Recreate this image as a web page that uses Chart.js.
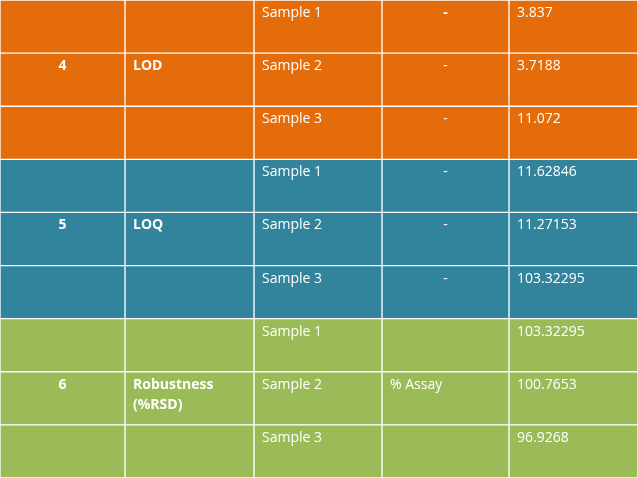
<!DOCTYPE html>
<html>
<head>
<meta charset="utf-8">
<script src="https://cdn.jsdelivr.net/npm/chart.js@4"></script>
<style>
  html, body { margin: 0; padding: 0; background: #fff; }
  #wrap { width: 638px; height: 478px; }
</style>
</head>
<body>
<div id="wrap"><canvas id="tbl"></canvas></div>
<script>
// table contents, one array per column
const colNo = ['', '4', '', '', '5', '', '', '6', ''];
const colParam = ['', 'LOD', '', '', 'LOQ', '', '', 'Robustness\n(%RSD)', ''];
const colSample = ['Sample 1', 'Sample 2', 'Sample 3', 'Sample 1', 'Sample 2', 'Sample 3', 'Sample 1', 'Sample 2', 'Sample 3'];
const colUnit = ['-', '-', '-', '-', '-', '-', '', '% Assay', ''];
const colValue = ['3.837', '3.7188', '11.072', '11.62846', '11.27153', '103.32295', '103.32295', '100.7653', '96.9268'];
const colWidths = [125, 129, 128, 127, 129];

const rows = colSample.map((_, i) => 'r' + i);
const columns = [colNo, colParam, colSample, colUnit, colValue];
const rowColors = ['#E46C0A', '#E46C0A', '#E46C0A', '#31849B', '#31849B', '#31849B', '#9BBB59', '#9BBB59', '#9BBB59'];

const cellText = {
  id: 'cellText',
  afterDatasetsDraw(chart) {
    const ctx = chart.ctx;
    ctx.save();
    ctx.fillStyle = '#fff';
    ctx.textBaseline = 'top';
    chart.data.datasets.forEach((ds, c) => {
      const meta = chart.getDatasetMeta(c);
      meta.data.forEach((bar, r) => {
        const txt = columns[c][r];
        if (!txt) return;
        const left = Math.min(bar.x, bar.base), right = Math.max(bar.x, bar.base);
        const top = bar.y - bar.height / 2;
        const bold = c < 2 || (c === 3 && r === 0);
        ctx.font = (bold ? 'bold ' : '') + '14px "Open Sans", sans-serif';
        const centered = c === 0 || (c === 3 && txt === '-');
        ctx.textAlign = centered ? 'center' : 'left';
        const x = centered ? (left + right) / 2 : left + 8;
        txt.split('\n').forEach((line, k) => ctx.fillText(line, x, top + 6 + k * 20));
      });
    });
    ctx.restore();
  }
};

new Chart(document.getElementById('tbl'), {
  type: 'bar',
  data: {
    labels: rows,
    datasets: colWidths.map((w, c) => ({
      label: 'col' + c,
      data: rows.map(() => w),
      backgroundColor: rowColors,
      borderColor: '#fff',
      borderWidth: 1,
      borderSkipped: false,
      categoryPercentage: 1,
      barPercentage: 1
    }))
  },
  options: {
    indexAxis: 'y',
    responsive: true,
    maintainAspectRatio: false,
    animation: false,
    layout: { padding: 0 },
    plugins: { legend: { display: false }, tooltip: { enabled: false } },
    scales: {
      x: { stacked: true, min: 0, max: 638, display: false },
      y: { stacked: true, display: false }
    }
  },
  plugins: [cellText]
});
</script>
</body>
</html>
